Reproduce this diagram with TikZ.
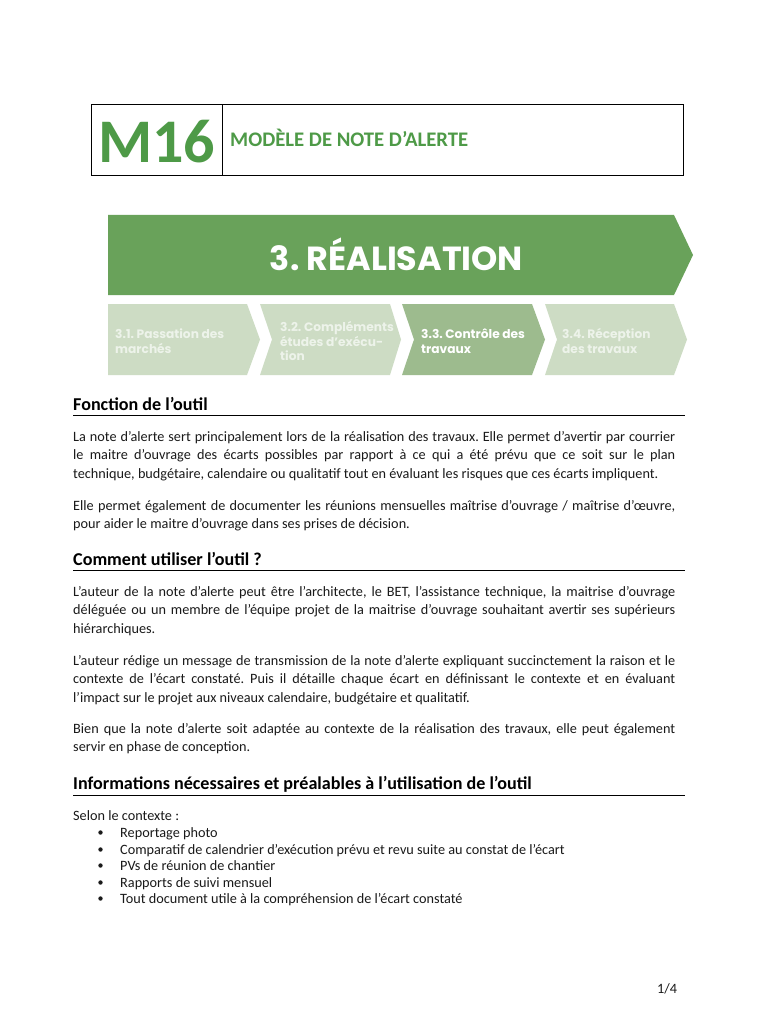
\documentclass[tikz,border=0pt]{standalone}
\usepackage{fontspec}
\setmainfont{Carlito}
\newfontfamily\bannerfont{Poppins}
\frenchspacing
\definecolor{titlegreen}{HTML}{4E9A47}
\definecolor{bannergreen}{HTML}{69A25A}
\definecolor{palegreen}{HTML}{CDDCC4}
\definecolor{midgreen}{HTML}{9DBB8E}
\definecolor{bodygray}{HTML}{1A1A1A}
\tikzset{
  heading/.style={anchor=base west,inner sep=0pt,font=\bfseries\fontsize{18.1}{20}\selectfont,text=black},
  bodytext/.style={anchor=base west,inner sep=0pt,text width=602pt,align=justify,text=bodygray,font=\fontsize{14.25}{18.5}\selectfont},
  plainline/.style={anchor=base west,inner sep=0pt,text=bodygray,font=\fontsize{14.25}{16}\selectfont},
  steplabel/.style={anchor=west,inner sep=0pt,align=left,text=white,font=\bannerfont\bfseries\fontsize{12.2}{14.5}\selectfont},
  palelabel/.style={steplabel,text=white!65!palegreen},
}
\begin{document}
\begin{tikzpicture}[x=1pt,y=-1pt]
  \useasboundingbox (0,0) rectangle (768,1024);
  \fill[white] (0,0) rectangle (768,1024);
  % title box
  \draw[line width=1pt] (91.5,104.5) rectangle (683.8,175.5);
  \draw[line width=1pt] (222.5,104.5) -- (222.5,175.5);
  \node[anchor=base west,inner sep=0pt,text=titlegreen,font=\bfseries\fontsize{62}{64}\selectfont] (code) at (98,162.5) {M16};
  \node[anchor=base west,inner sep=0pt,text=titlegreen,font=\bfseries\fontsize{20.7}{24}\selectfont] (title) at (230,147) {MODÈLE DE NOTE D’ALERTE};
  % chevrons
  \fill[bannergreen] (108,215) -- (674,215) -- (693,255) -- (674,295) -- (108,295) -- cycle;
  \node[anchor=base,inner sep=0pt,text=white,font=\bannerfont\bfseries\fontsize{33.4}{36}\selectfont] (phase) at (396.5,270) {3. RÉALISATION};
  \fill[palegreen] (108,304) -- (247,304) -- (260,339.5) -- (247,375) -- (108,375) -- cycle;
  \fill[palegreen] (260,304) -- (390,304) -- (401,339.5) -- (390,375) -- (260,375) -- (272,339.5) -- cycle;
  \fill[midgreen] (402,304) -- (532,304) -- (545,339.5) -- (532,375) -- (402,375) -- (414,339.5) -- cycle;
  \fill[palegreen] (545,304) -- (674,304) -- (687,339.5) -- (674,375) -- (545,375) -- (557,339.5) -- cycle;
  \node[palelabel] (stepa) at (115,341) {3.1. Passation des\\marchés};
  \node[palelabel] (stepb) at (280,341) {3.2. Compléments\\études d’exécu-\\tion};
  \node[steplabel] (stepc) at (421,341) {3.3. Contrôle des\\travaux};
  \node[palelabel] (stepd) at (562,341) {3.4. Réception\\des travaux};
  % section one
  \node[heading] (heada) at (73,410) {Fonction de l’outil};
  \draw[line width=0.8pt] (73,415.5) -- (685,415.5);
  \node[bodytext] (para) at (73,441) {La note d’alerte sert principalement lors de la réalisation des travaux. Elle permet d’avertir par courrier\linebreak le maitre d’ouvrage des écarts possibles par rapport à ce qui a été prévu que ce soit sur le plan\linebreak technique, budgétaire, calendaire ou qualitatif tout en évaluant les risques que ces écarts impliquent.};
  \node[bodytext] (parb) at (73,510) {Elle permet également de documenter les réunions mensuelles maîtrise d’ouvrage / maîtrise d’œuvre,\linebreak pour aider le maitre d’ouvrage dans ses prises de décision.};
  % section two
  \node[heading] (headb) at (73,565) {Comment utiliser l’outil ?};
  \draw[line width=0.8pt] (73,570.5) -- (685,570.5);
  \node[bodytext] (parc) at (73,596) {L’auteur de la note d’alerte peut être l’architecte, le BET, l’assistance technique, la maitrise d’ouvrage\linebreak déléguée ou un membre de l’équipe projet de la maitrise d’ouvrage souhaitant avertir ses supérieurs\linebreak hiérarchiques.};
  \node[bodytext] (pard) at (73,665) {L’auteur rédige un message de transmission de la note d’alerte expliquant succinctement la raison et le\linebreak contexte de l’écart constaté. Puis il détaille chaque écart en définissant le contexte et en évaluant\linebreak l’impact sur le projet aux niveaux calendaire, budgétaire et qualitatif.};
  \node[bodytext] (pare) at (73,733) {Bien que la note d’alerte soit adaptée au contexte de la réalisation des travaux, elle peut également\linebreak servir en phase de conception.};
  % section three
  \node[heading] (headc) at (73,789) {Informations nécessaires et préalables à l’utilisation de l’outil};
  \draw[line width=0.8pt] (73,795.5) -- (685,795.5);
  \node[plainline] (intro) at (73,820) {Selon le contexte :};
  \foreach \name/\ypos/\txt in {itema/837/Reportage photo,itemb/854/Comparatif de calendrier d’exécution prévu et revu suite au constat de l’écart,itemc/870/PVs de réunion de chantier,itemd/887/Rapports de suivi mensuel,iteme/903/Tout document utile à la compréhension de l’écart constaté}{
    \node[plainline] (\name) at (120,\ypos) {\txt};
    \fill[bodygray] (100.5,\ypos-4.5) circle (2.2);
  }
  \node[plainline] (page) at (657,993) {1/4};
\end{tikzpicture}
\end{document}
